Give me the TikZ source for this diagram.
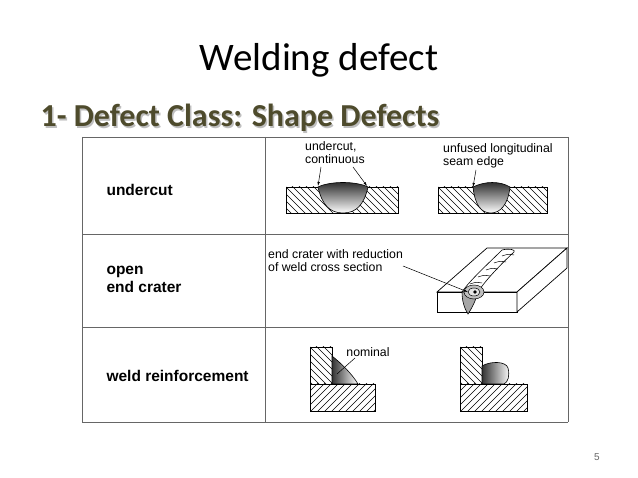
\documentclass[tikz,border=0pt]{standalone}
\usepackage{fontspec}
\setmainfont{Carlito}
\newfontfamily\arialf{Liberation Sans}
\usetikzlibrary{arrows.meta}
\definecolor{olive}{HTML}{4E4B2C}
\newcommand\myhatch[5]{% x1 y1 x2 y2 ; #5 = 1 for "\\", -1 for "//"
  \begin{scope}
    \clip (#1,#2) rectangle (#3,#4);
    \draw[line width=0.65pt] \foreach \k in {-40,-33,...,140} { ({#1+\k},{#2-5+(#5-1)*(-22.5)}) -- ++(50,{#5*50}) };
  \end{scope}
  \draw[line width=0.9pt] (#1,#2) rectangle (#3,#4);}
\begin{document}
\begin{tikzpicture}[x=1pt,y=-1pt,
  grid/.style={draw=black!60,line width=0.7pt},
  lab/.style={font=\arialf\bfseries\fontsize{15.5}{18}\selectfont,anchor=west,align=left},
  small/.style={font=\arialf\fontsize{12.3}{13}\selectfont,align=left,inner sep=0pt},
  weld/.style={draw,line width=0.6pt,top color=black!85,bottom color=white},
  lead/.style={line width=0.5pt,-{Latex[length=4pt,width=2.5pt]}}]
\useasboundingbox (0,0) rectangle (638,478);
\fill[white] (0,0) rectangle (638,478);
\node[font=\fontsize{39}{44}\selectfont] (t) at (319,60) {Welding defect};
\node[font=\bfseries\fontsize{32}{36}\selectfont,text=black!25] at (241.5,119.5) {1- Defect Class: Shape Defects};
\node[font=\bfseries\fontsize{32}{36}\selectfont,text=olive] (st) at (240,118) {1- Defect Class: Shape Defects};
% table
\draw[grid] (82,137) -- (568,137) (82,137) -- (82,422) (265,137) -- (265,422) (82,422) -- (568,422)
  (82,234) -- (568,234) (82,327) -- (568,327) (568,137)--(568,422);
\node[lab] (l1) at (103,190) {undercut};
\node[lab,align=left] (l2) at (103,279) {open\\end crater};
\node[lab] (l3) at (103,376) {weld reinforcement};
% undercut 1
\myhatch{286}{187}{398}{213}{1}
\draw[weld] (318,187) .. controls (330,181) and (356,181) .. (368,187) .. controls (364,205) and (356,213) .. (343,213) .. controls (330,213) and (322,205) .. (318,187) -- cycle;
\node[small,anchor=north west] (u1) at (305,141) {undercut,\\continuous};
\coordinate (c1) at (318,186); \coordinate (c2) at (367,186);
\draw[lead] (321,167) -- (c1);
\draw[lead] (353,167) -- (c2);
% undercut 2
\myhatch{438}{187}{547}{213}{1}
\draw[weld] (473,187) .. controls (485,181) and (500,181) .. (510,187) .. controls (508,205) and (500,213) .. (491,213) .. controls (481,213) and (475,205) .. (473,187) -- cycle;
\node[small,anchor=north west] (u2) at (443,143) {unfused longitudinal\\seam edge};
\coordinate (c3) at (473,187);
\draw[lead] (476,170) -- (c3);
% end crater
\node[small,anchor=north west] (ec) at (268,249) {end crater with reduction\\of weld cross section};
\draw[line width=0.7pt,fill=white] (437,292) -- (487,248) -- (567,248) -- (517,292) -- cycle;
\draw[line width=0.7pt,fill=white] (437,292) -- (517,292) -- (517,312) -- (437,312) -- cycle;
\draw[line width=0.7pt,fill=white] (517,292) -- (567,248) -- (567,268) -- (517,312) -- cycle;
\draw[line width=0.6pt,fill=white] (462,292) .. controls (470,280) and (490,262) .. (502,250) .. controls (510,248) and (516,250) .. (514,252) .. controls (500,265) and (484,282) .. (478,292) -- cycle;
\foreach \i in {0,1,2,3,4} {
  \draw[line width=0.5pt] ({470+\i*8},{284-\i*7}) .. controls ({476+\i*8},{282-\i*7}) .. ({482+\i*8},{283-\i*7});
}
\draw[line width=0.6pt,fill=black!35] (462,292) .. controls (462,300) and (464,308) .. (468,314) .. controls (472,308) and (476,300) .. (478,292) -- cycle;
\draw[line width=0.5pt,fill=black!25] (474,292) ellipse (10 and 7);
\draw[line width=0.5pt,fill=black!10] (474,292) ellipse (6 and 4);
\fill (475,292) circle (1.8);
\coordinate (cr) at (468,292);
\draw[lead] (403,266) -- (cr);
% reinforcement 1
\myhatch{310}{347}{332}{384}{1}
\myhatch{310}{384}{375}{411}{-1}
\draw[weld,left color=black!80,right color=white] (332,356) .. controls (342,364) and (352,374) .. (358,384) -- (332,384) -- cycle;
\node[small] (nm) at (368,352) {nominal};
\coordinate (nm2) at (337,374);
\draw[line width=0.5pt] (355,358) -- (nm2);
% reinforcement 2
\myhatch{460}{347}{482}{384}{1}
\myhatch{460}{384}{527}{411}{-1}
\draw[weld,left color=black!80,right color=white] (482,366) .. controls (490,361) and (506,361) .. (508,368) .. controls (510,376) and (508,382) .. (504,384) -- (482,384) -- cycle;
\node[font=\arialf\fontsize{10}{11}\selectfont,text=black!60] (pg) at (597,457) {5};
\end{tikzpicture}
\end{document}
